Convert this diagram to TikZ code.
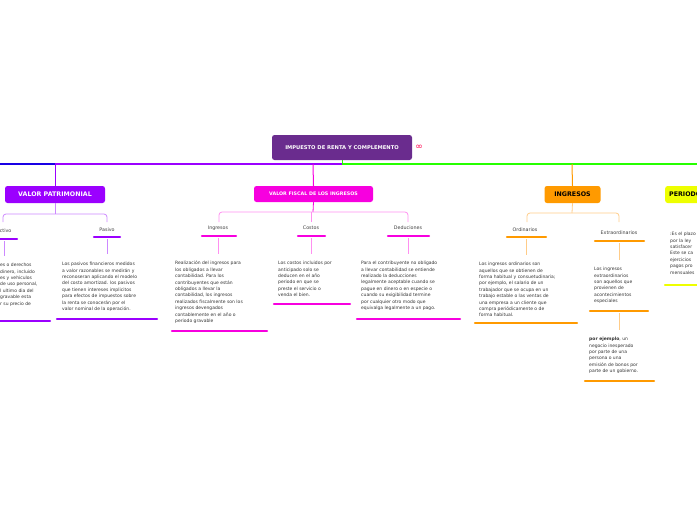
\documentclass[tikz,border=0pt]{standalone}
\usepackage{fontspec}
\setmainfont{DejaVu Sans}
\begin{document}
\begin{tikzpicture}[x=1pt,y=-1pt,
 tb/.style={font=\fontsize{4.5}{6.4}\selectfont,align=left,anchor=north west,inner sep=0,text=black!80},
 lab/.style={font=\fontsize{4.8}{6}\selectfont,text=black!75,inner sep=1},
 box/.style={rounded corners=2.5pt,minimum height=17pt,font=\fontsize{6.3}{7}\selectfont\bfseries,text=white,inner sep=0},
 ul/.style={line width=2.2pt,line cap=round}]
\useasboundingbox (0,0) rectangle (697,520);
\clip (0,0) rectangle (697,520);
\definecolor{vp}{HTML}{9B00FF}\definecolor{vpl}{HTML}{CC88FF}
\definecolor{mg}{HTML}{F700DF}\definecolor{mgl}{HTML}{FF90F0}
\definecolor{or}{HTML}{FF9A00}\definecolor{orl}{HTML}{FFCC88}
\definecolor{ye}{HTML}{EEFF00}\definecolor{mp}{HTML}{6A2C8E}
% main lines
\draw[blue!80!violet,line width=1.2pt] (0,164)--(55,164);
\draw[vp,line width=1.2pt] (55,164)--(342,164);
\draw[green!80!lime,line width=1.2pt] (342,164)--(697,164);
\node[box,fill=mp,minimum width=140pt,minimum height=25pt,font=\fontsize{5.2}{6}\selectfont\bfseries] (main) at (342,147.5) {IMPUESTO DE RENTA Y COMPLEMENTO};
\node[text=red!70!magenta,font=\fontsize{9}{9}\selectfont] (ic) at (419,147) {∞};
\draw[green!80!lime,line width=1pt] (342,160)--(342,164);
% VALOR PATRIMONIAL
\node[box,fill=vp,minimum width=100pt] (vpn) at (55,194.5) {VALOR PATRIMONIAL};
\draw[vp,line width=1pt] (55,164)--(vpn.north);
\draw[vpl,line width=0.8pt] (vpn.south)--(55,214);
\draw[vpl,line width=0.8pt,rounded corners=3pt] (3,222)--(3,214)--(107,214)--(107,222);
\node[lab] (act) at (4,231) {Activo};
\draw[vp,ul] (0,239)--(17,239);
\draw[vpl,line width=0.8pt] (4,241)--(4,256);
\node[tb] (actt) at (0,263) {es o derechos\\ dinero, incluido\\es y vehiculos\\de uso personal,\\l ultimo dia del\\gravable esta\\r su precio de};
\draw[vp,ul] (0,321)--(50,321);
\node[lab] (pas) at (107,230) {Pasivo};
\draw[vp,ul] (94,237)--(120,237);
\draw[vpl,line width=0.8pt] (107,239)--(107,254);
\node[tb] (past) at (62,262) {Los pasivos financieros medidos\\a valor razonables se medirán y\\reconoseran aplicando el modelo\\del costo amortizad. los pasivos\\que tienen intereses implicitos\\para efectos de impuestos sobre\\la renta se conocerán por el\\valor nominal de la operación.};
\draw[vp,ul] (57,319)--(157,319);
% VALOR FISCAL
\node[box,fill=mg,minimum width=119pt,minimum height=16pt,font=\fontsize{4.8}{6}\selectfont\bfseries] (vf) at (313.5,194) {VALOR FISCAL DE LOS INGRESOS};
\draw[mg,line width=1pt] (313,164)--(vf.north);
\draw[mg,line width=0.8pt] (vf.south)--(313,212);
\draw[mgl,line width=0.8pt,rounded corners=3pt] (219,222)--(219,212)--(408,212)--(408,222);
\draw[mgl,line width=0.8pt] (311,212)--(311,222);
\node[lab] (ing) at (218,228) {Ingresos};
\draw[mg,ul] (202,236)--(236,236);
\draw[mgl,line width=0.8pt] (218,238)--(218,254);
\node[tb] (ingt) at (175,261) {Realización del ingresos para\\los obligados a llevar\\contabilidad. Para los\\contribuyentes que están\\obligados a llevar la\\contabilidad, los ingresos\\realizados fiscalmente son los\\ingresos devengados\\contablemente en el año o\\periodo gravable};
\draw[mg,ul] (172,331)--(267,331);
\node[lab] (cos) at (311,228) {Costos};
\draw[mg,ul] (298,236)--(325,236);
\draw[mgl,line width=0.8pt] (311,238)--(311,254);
\node[tb] (cost) at (278,261) {Los costos incluidos por\\anticipado solo se\\deducen en el año\\periodo en que se\\preste el servicio o\\venda el bien.};
\draw[mg,ul] (274,304)--(350,304);
\node[lab] (ded) at (408,228) {Deduciones};
\draw[mg,ul] (388,236)--(429,236);
\draw[mgl,line width=0.8pt] (408,238)--(408,254);
\node[tb] (dedt) at (361,261) {Para el contribuyente no obligado\\a llevar contabilidad se entiende\\realizado la deducciones\\legalmente aceptable cuando se\\pague en dinero o en especie o\\cuando su exigibilidad termine\\por cualquier otro modo que\\equivalga legalmente a un pago.};
\draw[mg,ul] (357,319)--(460,319);
% INGRESOS
\node[box,fill=or,text=black,minimum width=56pt,font=\fontsize{6.3}{7}\selectfont\bfseries] (in) at (572.5,194.5) {INGRESOS};
\draw[or,line width=1pt] (572,164)--(in.north);
\draw[orl,line width=0.8pt] (in.south)--(572,213);
\draw[orl,line width=0.8pt,rounded corners=3pt] (527,222)--(527,213)--(619,213)--(619,222);
\node[lab] (ord) at (525,230) {Ordinarios};
\draw[or,ul] (507,237)--(546,237);
\draw[orl,line width=0.8pt] (526,239)--(526,255);
\node[tb] (ordt) at (479,262) {Los ingresos ordinarios son\\aquellos que se obtienen de\\forma habitual y consuetudinaria;\\por ejemplo, el salario de un\\trabajador que se ocupa en un\\trabajo estable o las ventas de\\una empresa a un cliente que\\compra periódicamente o de\\forma habitual.};
\draw[or,ul] (475,323)--(577,323);
\node[lab] (ext) at (619,233) {Extraordinarios};
\draw[or,ul] (595,241)--(644,241);
\draw[orl,line width=0.8pt] (619,243)--(619,260);
\node[tb] (extt) at (594,267) {Los ingresos\\extraordinarios\\son aquellos que\\provienen de\\acontecimientos\\especiales};
\draw[or,ul] (590,311)--(648,311);
\draw[orl,line width=0.8pt] (619,313)--(619,330);
\node[tb] (ejt) at (589,337) {\textbf{por ejemplo}, un\\negocio inesperado\\por parte de una\\persona o una\\emisión de bonos por\\parte de un gobierno.};
\draw[or,ul] (585,381)--(654,381);
% PERIODO
\node[box,fill=ye,text=black,minimum width=60pt,anchor=west,align=left,text width=52pt] (pe) at (665,194.5) {PERIODO};
\node[tb] (pet) at (670,232) {:Es el plazo\\por la ley\\satisfacer\\Este se ca\\ejercicios\\pagos pro\\mensuales};
\draw[ye,ul] (665,285)--(700,285);
\end{tikzpicture}
\end{document}
